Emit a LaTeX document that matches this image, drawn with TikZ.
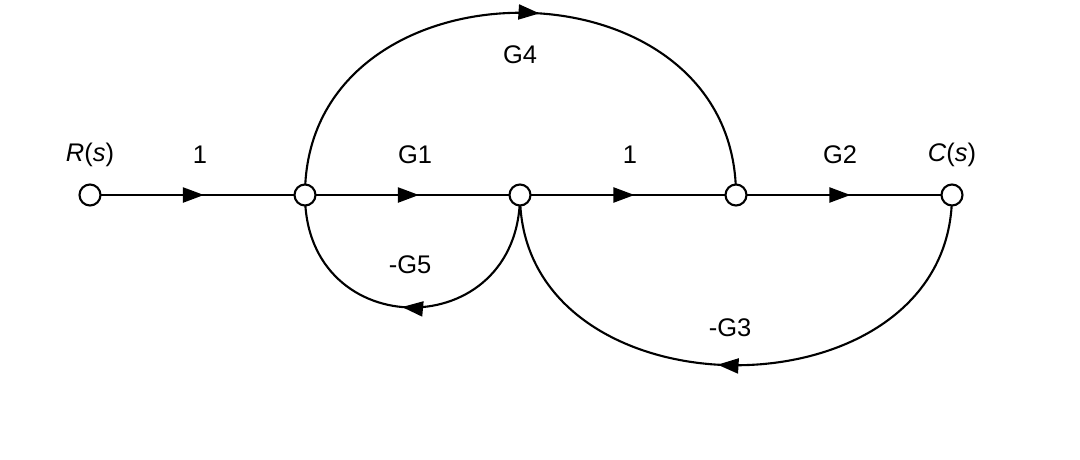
\documentclass[tikz,border=0pt]{standalone}
\usepackage{fontspec}
\setmainfont{Liberation Sans}
\usetikzlibrary{decorations.markings,arrows.meta}
\begin{document}
\begin{tikzpicture}[x=0.02cm,y=-0.02cm,
  sn/.style={circle,draw,line width=1.2pt,fill=white,minimum size=0.42cm,inner sep=0pt},
  br/.style={line width=1.2pt,postaction={decorate},decoration={markings,mark=at position #1 with {\arrow{Triangle[length=0.42cm,width=0.3cm]}}}},
  br/.default=0.53,
  lab/.style={font=\fontsize{14.5}{17}\selectfont}]
\useasboundingbox (0,0) rectangle (1080,460);
\coordinate (p0) at (90,195);
\coordinate (p1) at (305,195);
\coordinate (p2) at (520,195);
\coordinate (p3) at (736,195);
\coordinate (p4) at (952,195);
\draw[br] (p0) -- (p1);
\draw[br] (p1) -- (p2);
\draw[br] (p2) -- (p3);
\draw[br] (p3) -- (p4);
\draw[br] (p1) .. controls (305,-48) and (736,-48) .. (p3);
\draw[br] (p2) .. controls (520,345) and (305,345) .. (p1);
\draw[br] (p4) .. controls (952,422) and (520,422) .. (p2);
\node[sn] (n0) at (p0) {};
\node[sn] (n1) at (p1) {};
\node[sn] (n2) at (p2) {};
\node[sn] (n3) at (p3) {};
\node[sn] (n4) at (p4) {};
\node[lab] (l1) at (200,155) {1};
\node[lab] (l2) at (415,155) {G1};
\node[lab] (l3) at (630,155) {1};
\node[lab] (l4) at (840,155) {G2};
\node[lab] (l5) at (520,55) {G4};
\node[lab] (l6) at (410,265) {-G5};
\node[lab] (l7) at (730,328) {-G3};
\node[lab] (lr) at (90,155) {\textit{R}(\textit{s})};
\node[lab] (lc) at (952,155) {\textit{C}(\textit{s})};
\end{tikzpicture}
\end{document}
